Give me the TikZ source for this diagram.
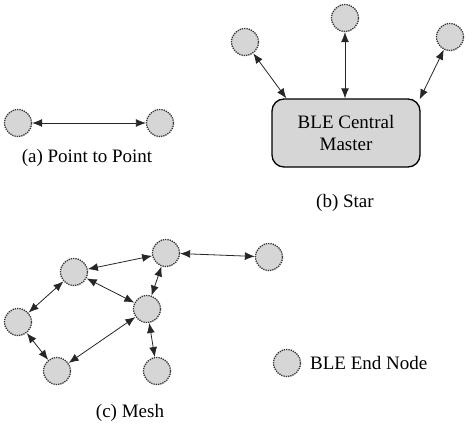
\documentclass[tikz,border=0pt]{standalone}
\usepackage{fontspec}
\setmainfont{Liberation Serif}
\usetikzlibrary{arrows.meta}
\begin{document}
\begin{tikzpicture}[x=1pt,y=-1pt,
  endnode/.style={circle,minimum size=27pt,inner sep=0pt,fill=gray!32,draw=black!80,dash pattern=on 1.3pt off 1pt,line width=1.3pt},
  link/.style={{Latex[length=10pt,width=8pt]}-{Latex[length=10pt,width=8pt]},line width=0.8pt,draw=black!85},
  caption/.style={font=\fontsize{19}{22}\selectfont,inner sep=0pt},
  central/.style={draw=black,line width=1.3pt,fill=gray!32,rounded corners=12pt,minimum width=148pt,minimum height=68pt,align=center,font=\fontsize{19}{22}\selectfont}]
\useasboundingbox (0,0) rectangle (474,431);
% (a) point to point
\node[endnode] (pa) at (18,123) {};
\node[endnode] (pb) at (160,123) {};
\draw[link] (pa) -- (pb);
\node[caption] (capa) at (87,158) {(a) Point to Point};
% (b) star
\node[central] (box) at (346,133) {BLE Central\\Master};
\node[endnode] (s1) at (245,42) {};
\node[endnode] (s2) at (345,18) {};
\node[endnode] (s3) at (450,37) {};
\draw[link] (s1) -- ([xshift=15pt]box.north west);
\draw[link] (s2) -- (s2 |- box.north);
\draw[link] (s3) -- ([xshift=-1pt,yshift=-1pt]box.north east);
\node[caption] (capb) at (345,203) {(b) Star};
% (c) mesh
\node[endnode] (m1) at (166,253) {};
\node[endnode] (m2) at (269,257) {};
\node[endnode] (m3) at (74,272) {};
\node[endnode] (m4) at (147,309) {};
\node[endnode] (m5) at (18,322) {};
\node[endnode] (m6) at (57,371) {};
\node[endnode] (m7) at (157,371) {};
\draw[link] (m3) -- (m1);
\draw[link] (m1) -- (m2);
\draw[link] (m1) -- (m4);
\draw[link] (m3) -- (m4);
\draw[link] (m3) -- (m5);
\draw[link] (m5) -- (m6);
\draw[link] (m6) -- (m4);
\draw[link] (m4) -- (m7);
\node[caption] (capc) at (130,413) {(c) Mesh};
% legend
\node[endnode] (leg) at (287,363) {};
\node[caption,anchor=west] (legt) at (310,363) {BLE End Node};
\end{tikzpicture}
\end{document}
